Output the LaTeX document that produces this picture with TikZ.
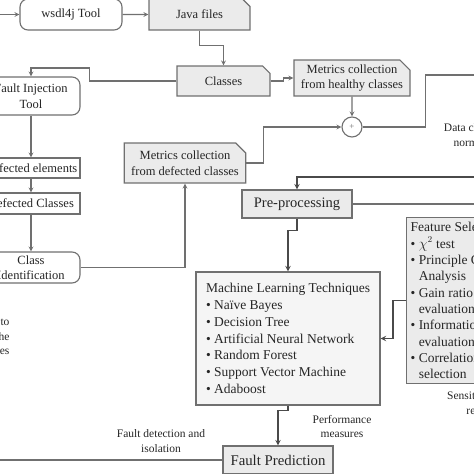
\documentclass[tikz,border=0pt]{standalone}
\usepackage{fontspec}
\setmainfont{Liberation Serif}
\usetikzlibrary{shapes.misc}

\definecolor{linegray}{HTML}{707070}
\definecolor{darkline}{HTML}{4A4A4A}
\definecolor{boxgray}{HTML}{EBEBEB}
\definecolor{txtgray}{HTML}{262626}

\tikzset{
  tool/.style={draw=linegray, fill=white, rounded corners=8pt, line width=1.1pt, inner sep=0pt,
    align=center, text=txtgray, font=\fontsize{12.5}{15.5}\selectfont},
  plainbox/.style={draw=linegray, fill=white, line width=1.1pt, inner sep=0pt,
    align=center, text=txtgray, font=\fontsize{12.5}{15.5}\selectfont},
  filebox/.style={chamfered rectangle, chamfered rectangle corners=north east,
    chamfered rectangle xsep=7pt, draw=linegray, fill=boxgray, line width=1.1pt, inner sep=0pt,
    align=center, text=txtgray, font=\fontsize{12.5}{15.5}\selectfont},
  stage/.style={draw=linegray, fill=boxgray, line width=1.2pt, inner sep=0pt,
    text=txtgray, font=\fontsize{14.5}{17}\selectfont},
  listbox/.style={draw=linegray, line width=1.3pt, inner sep=4pt, align=left,
    text=txtgray, font=\fontsize{13.5}{16.8}\selectfont},
  note/.style={align=center, text=txtgray, font=\fontsize{11.5}{14.5}\selectfont},
  link/.style={->, draw=linegray, line width=1.2pt},
  boldlink/.style={->, draw=darkline, line width=1.4pt},
  wire/.style={draw=linegray, line width=1.2pt}
}

\begin{document}
\begin{tikzpicture}[>=stealth, x=1pt, y=-1pt]
\path[use as bounding box] (0,0) rectangle (474,474);
\clip (0,0) rectangle (474,474);

% top row
\node[tool, minimum width=102, minimum height=31] (wsdl) at (71,14.5) {wsdl4j Tool};
\node[filebox, minimum width=101, minimum height=31] (java) at (199.5,14.5) {Java files};
\node[filebox, minimum width=93, minimum height=30] (classes) at (223.5,81) {Classes};
\node[filebox, minimum width=110, minimum height=36] (methealthy) at (352,78) {Metrics collection\\from healthy classes};
\node[circle, draw=linegray, fill=white, line width=1.1pt, minimum size=20, inner sep=0pt,
  text=linegray, font=\fontsize{9}{9}\selectfont] (plus) at (352,127) {+};

% fault injection branch
\node[tool, minimum width=98, minimum height=38] (inject) at (31,96) {Fault Injection\\Tool};
\node[plainbox, minimum width=98, minimum height=20] (defelem) at (31,168) {Defected elements};
\node[plainbox, minimum width=98, minimum height=21] (defclass) at (31,203.5) {Defected Classes};
\node[tool, minimum width=98, minimum height=31] (classid) at (31,267.5) {Class\\Identification};
\node[filebox, minimum width=116, minimum height=40] (metdef) at (185,163) {Metrics collection\\from defected classes};

% processing and learning
\node[stage, minimum width=110, minimum height=28] (pre) at (297,204) {Pre-processing};
\node[listbox, fill=white!96!black, minimum width=184, minimum height=133] (ml) at (288,338.5)
  {Machine Learning Techniques\\
   \textbullet\ Naïve Bayes\\
   \textbullet\ Decision Tree\\
   \textbullet\ Artificial Neural Network\\
   \textbullet\ Random Forest\\
   \textbullet\ Support Vector Machine\\
   \textbullet\ Adaboost};
\node[listbox, fill=boxgray, anchor=north west, minimum height=166, font=\fontsize{13.5}{16.3}\selectfont] (fs) at (406,217)
  {Feature Selection\\
   \textbullet\ $\chi^2$ test\\
   \textbullet\ Principle Component\\
   \phantom{\textbullet\ }Analysis\\
   \textbullet\ Gain ratio attribute\\
   \phantom{\textbullet\ }evaluation\\
   \textbullet\ Information gain\\
   \phantom{\textbullet\ }evaluation\\
   \textbullet\ Correlation feature\\
   \phantom{\textbullet\ }selection};
\node[stage, minimum width=110, minimum height=28, font=\fontsize{14.8}{17}\selectfont] (fp) at (278,460) {Fault Prediction};

% labels
\node[note] (clean) at (485.5,135) {Data cleaning and\\normalization};
\node[note] (sens) at (481.5,403) {Sensitivity and\\results};
\node[note] (perf) at (342,426.5) {Performance\\measures};
\node[note] (fdi) at (161,441) {Fault detection and\\isolation};
\node[note, anchor=east, align=right] (mapnote) at (13,337) {to\\the\\classes};

% free ends
\coordinate (wsdlin) at (-10,14.5);
\coordinate (cleanout) at (490,75);
\coordinate (prein) at (490,177);
\coordinate (fsout) at (490,204);
\coordinate (fdiout) at (-10,460);

\draw[link] (wsdlin) -- (wsdl);
\draw[link] (wsdl) -- (java);
\draw[link] (java.south) -- ++(0,15) -| (classes.north);
\draw[link] (classes.west) -- ++(-87,0) -- ++(0,-13) -| (inject.north);
\draw[link] (inject) -- (defelem);
\draw[link] (defelem) -- (defclass);
\draw[link] (defclass) -- (classid);
\draw[link] (classid.east) -| (metdef.south);
\draw[link] (classes.east) -- ++(13,0) |- (methealthy.west);
\draw[link] (methealthy) -- (plus);
\draw[link] (metdef.east) -- ++(17,0) |- (plus.west);
\draw[wire] (plus.east) -- ++(63,0) |- (cleanout);

\draw[boldlink] (prein) -| (pre.north);
\draw[wire] (pre.east) -- (fsout);
\draw[boldlink] (pre.south) -- ++(0,12) -| (ml.north);
\draw[boldlink] (fs.west) -- ++(-13,0) |- (ml.east);
\draw[boldlink] (ml.south) -- ++(0,5) -| (fp.north);
\draw[wire] (fp.west) -- (fdiout);
\end{tikzpicture}
\end{document}
